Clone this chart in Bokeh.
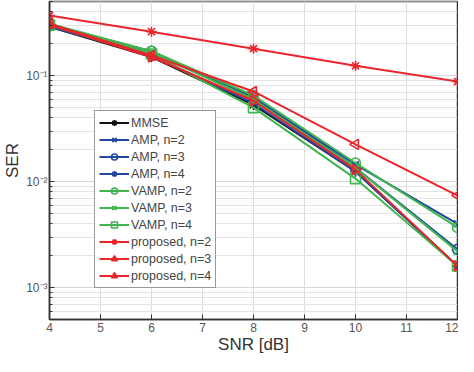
import numpy as np
from bokeh.plotting import figure
from bokeh.models import FixedTicker, Legend, LegendItem, Range1d
from bokeh.embed import file_html
from bokeh.resources import INLINE

snr = [4, 6, 8, 10, 12]

mmse       = [0.290, 0.150, 0.053, 0.0125, 0.0016]
amp_n2     = [0.300, 0.165, 0.062, 0.0145, 0.0040]
amp_n3     = [0.300, 0.170, 0.062, 0.0135, 0.0023]
amp_n4     = [0.290, 0.155, 0.055, 0.0125, 0.0016]
vamp_n2    = [0.310, 0.170, 0.065, 0.0150, 0.0037]
vamp_n3    = [0.300, 0.165, 0.060, 0.0135, 0.0022]
vamp_n4    = [0.300, 0.160, 0.050, 0.0107, 0.0016]
prop_n2    = [0.370, 0.260, 0.180, 0.1240, 0.0880]
prop_n3    = [0.310, 0.155, 0.071, 0.0225, 0.0074]
prop_n4    = [0.300, 0.150, 0.058, 0.0130, 0.0016]

x_ticks = [4, 5, 6, 7, 8, 9, 10, 11, 12]
y_ticks = [1e-3, 1e-2, 1e-1]
y_tick_labels = ["10⁻³", "10⁻²", "10⁻¹"]

BLACK = "#111111"
BLUE = "#2346a0"
GREEN = "#3fb54e"
RED = "#e8262c"

series = [
    ("MMSE", mmse, BLACK, "asterisk", 0),
    ("AMP, n=2", amp_n2, BLUE, "x", 0),
    ("AMP, n=3", amp_n3, BLUE, "circle", 0),
    ("AMP, n=4", amp_n4, BLUE, "asterisk", 0),
    ("VAMP, n=2", vamp_n2, GREEN, "circle", 0),
    ("VAMP, n=3", vamp_n3, GREEN, "x", 0),
    ("VAMP, n=4", vamp_n4, GREEN, "square", 0),
    ("proposed, n=2", prop_n2, RED, "asterisk", 0),
    ("proposed, n=3", prop_n3, RED, "triangle", np.pi / 2),
    ("proposed, n=4", prop_n4, RED, "triangle", -np.pi / 2),
]

p = figure(width=458, height=356, y_axis_type="log", output_backend="svg",
           toolbar_location=None, x_range=Range1d(4, 12),
           y_range=Range1d(10 ** -3.3, 10 ** -0.3),
           min_border_left=40, min_border_right=1, min_border_top=1,
           min_border_bottom=36)

p.background_fill_color = "white"
p.outline_line_color = "#333333"
p.outline_line_width = 1.5

items = []
for name, vals, col, mk, ang in series:
    r1 = p.line(snr, vals, line_color=col, line_width=2)
    r2 = p.scatter(snr, vals, marker=mk, size=10, angle=ang, line_color=col,
                   fill_color=None, line_width=1.6)
    items.append(LegendItem(label=name, renderers=[r1, r2]))

p.xaxis.ticker = FixedTicker(ticks=x_ticks)
minor = [m * 10.0 ** e for e in (-4, -3, -2, -1) for m in range(2, 10)]
p.yaxis.ticker = FixedTicker(ticks=y_ticks, minor_ticks=minor)
p.yaxis.major_label_overrides = {v: s for v, s in zip(y_ticks, y_tick_labels)}

for ax in (p.xaxis, p.yaxis):
    ax.axis_line_color = "#333333"
    ax.axis_line_width = 1.5
    ax.major_tick_in = 5
    ax.major_tick_out = 0
    ax.major_tick_line_color = "#333333"
    ax.minor_tick_in = 3
    ax.minor_tick_out = 0
    ax.minor_tick_line_color = "#333333"
    ax.major_label_text_font = "Liberation Sans"
    ax.major_label_text_font_size = "12px"
    ax.major_label_text_color = "#555555"
    ax.axis_label_text_font = "Liberation Sans"
    ax.axis_label_text_font_size = "17px"
    ax.axis_label_text_font_style = "normal"
    ax.axis_label_text_color = "#333333"

p.xaxis.axis_label = "SNR [dB]"
p.yaxis.axis_label = "SER"
p.xaxis.major_label_standoff = 3
p.xaxis.axis_label_standoff = 0
p.yaxis.major_label_standoff = 2
p.yaxis.axis_label_standoff = 1

p.xgrid.grid_line_color = "#dddddd"
p.ygrid.grid_line_color = "#d6d6d6"
p.ygrid.minor_grid_line_color = "#e4e4e4"

legend = Legend(items=items, location=(45, 31), label_text_font="Liberation Sans",
                label_text_font_size="12.5px", label_height=15, glyph_height=15,
                glyph_width=30, label_standoff=2, spacing=2, padding=4, margin=0,
                border_line_color="#333333", border_line_width=1.5,
                background_fill_color="white", background_fill_alpha=1.0)
p.add_layout(legend, "center")

open("out.html", "w").write(file_html(p, INLINE))
